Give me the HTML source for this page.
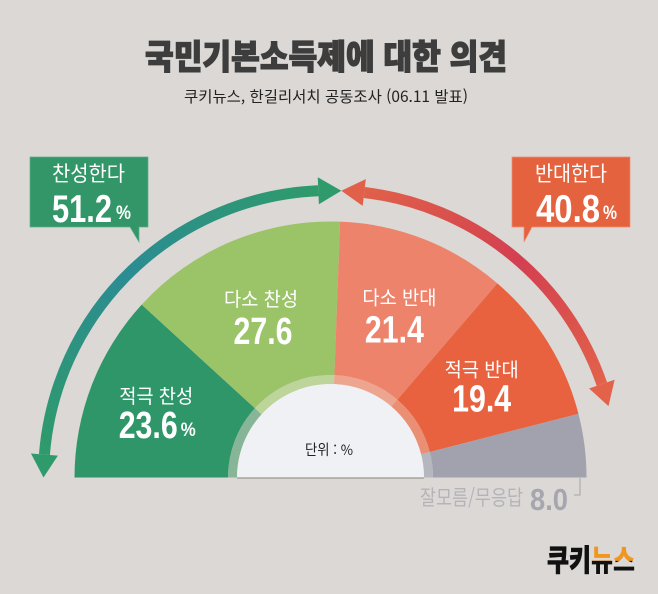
<!DOCTYPE html>
<html lang="ko">
<head>
<meta charset="utf-8">
<title>국민기본소득제에 대한 의견</title>
<style>
html,body{margin:0;padding:0;background:#dbd8d5;}
#chart{display:block;width:658px;height:594px;}
text{font-family:"Liberation Sans","Noto Sans CJK KR",sans-serif;}
.kr{font-family:"Noto Sans CJK KR","Liberation Sans",sans-serif;}
</style>
</head>
<body>
<svg id="chart" xmlns="http://www.w3.org/2000/svg" width="658" height="594" viewBox="0 0 658 594">
  <defs>
    <linearGradient id="favor-grad" x1="0" y1="1" x2="1" y2="0">
      <stop offset="0" stop-color="#2f9a6b"/><stop offset="0.5" stop-color="#2b8c93"/><stop offset="1" stop-color="#2f9a6b"/>
    </linearGradient>
    <linearGradient id="oppose-grad" x1="0" y1="0" x2="1" y2="1">
      <stop offset="0" stop-color="#e0604a"/><stop offset="0.5" stop-color="#d33f50"/><stop offset="1" stop-color="#e2624a"/>
    </linearGradient>
    <linearGradient id="logo-grad" x1="0" y1="0" x2="0" y2="1">
      <stop offset="0" stop-color="#f0961e"/><stop offset="0.56" stop-color="#f0961e"/><stop offset="0.57" stop-color="#111"/><stop offset="1" stop-color="#111"/>
    </linearGradient>
  </defs>
  <rect width="658" height="594" fill="#dbd8d5"/>
  <text class="kr" x="145" y="69" font-size="34" font-weight="900" fill="#3d3d3d" stroke="#3d3d3d" stroke-width="1.2" textLength="362" lengthAdjust="spacingAndGlyphs">국민기본소득제에 대한 의견</text>
  <text class="kr" x="184" y="102" font-size="15.5" fill="#222" textLength="284" lengthAdjust="spacingAndGlyphs">쿠키뉴스, 한길리서치 공동조사 (06.11 발표)</text>

  <g id="marks"></g>
  <g id="arrows"></g>
  <g id="labels"></g>

  <g>
    <path d="M30 157H148V227H139V242L130 227H30Z" fill="#329668" stroke="#5fae8b" stroke-width="0.7"/>
    <text class="kr" x="52" y="181" font-size="21" fill="#fff" textLength="73" lengthAdjust="spacingAndGlyphs">찬성한다</text>
    <text id="favor-value" x="52" y="222" font-size="39" font-weight="bold" fill="#fff" textLength="60" lengthAdjust="spacingAndGlyphs"></text>
    <text x="116" y="219" font-size="19" font-weight="bold" fill="#fff" textLength="15" lengthAdjust="spacingAndGlyphs">%</text>
  </g>
  <g>
    <path d="M512 157H630V227H532L524 242V227H512Z" fill="#e5623f" stroke="#ee8d73" stroke-width="0.7"/>
    <text class="kr" x="535" y="181" font-size="21" fill="#fff" textLength="72" lengthAdjust="spacingAndGlyphs">반대한다</text>
    <text id="oppose-value" x="536" y="222" font-size="39" font-weight="bold" fill="#fff" textLength="64" lengthAdjust="spacingAndGlyphs"></text>
    <text x="603" y="219" font-size="19" font-weight="bold" fill="#fff" textLength="14" lengthAdjust="spacingAndGlyphs">%</text>
  </g>

  <text class="kr" x="305" y="455" font-size="14.5" fill="#222" textLength="48" lengthAdjust="spacingAndGlyphs">단위 : %</text>

  <path d="M580 478V495H574" fill="none" stroke="#a5a5a8" stroke-width="1"/>
  <text class="kr" x="420" y="505" font-size="21" fill="#b4b4b8" textLength="103" lengthAdjust="spacingAndGlyphs">잘모름/무응답</text>
  <text id="noanswer-value" x="530" y="510" font-size="31" font-weight="bold" fill="#a6a6ae" textLength="38" lengthAdjust="spacingAndGlyphs"></text>

  <text class="kr" x="547" y="571" font-size="30" font-weight="900" textLength="88" lengthAdjust="spacingAndGlyphs"><tspan fill="#111" stroke="#111" stroke-width="0.6">쿠키</tspan><tspan fill="url(#logo-grad)">뉴스</tspan></text>

  <script>
  // Chart data
  const categories = ['적극 찬성', '다소 찬성', '다소 반대', '적극 반대', '잘모름/무응답'];
  const values = [23.6, 27.6, 21.4, 19.4, 8.0];
  const printedValues = ['23.6', '27.6', '21.4', '19.4', '8.0'];
  const favorTotal = [51.2];
  const opposeTotal = [40.8];

  // Layout (not data)
  const CX = 330.5, CY = 477.5, R_OUT = 256, R_RING = 102.5, R_IN = 93.5, R_ARROW = 287;
  const segmentFills = ['#2f9669', '#9bc469', '#ee836c', '#e8623f', '#a2a2ae'];
  const ringFills = ['#86b597', '#bdd49b', '#eda590', '#ea8e74', '#b6b6bf'];
  const labelRadius = [187, 175, 175, 178];
  const nameShiftX = [0, -2, 5, 0];
  const nameShiftY = [0, -3, -3, 0];
  const NS = 'http://www.w3.org/2000/svg';

  // Axis functions: percent share -> gauge angle -> screen point
  function angleOf(pct) { return Math.PI * pct / 100; }
  function polar(r, a) { return [CX - r * Math.cos(a), CY - r * Math.sin(a)]; }
  function sector(r0, r1, a0, a1) {
    const p0 = polar(r1, a0), p1 = polar(r1, a1), p2 = polar(r0, a1), p3 = polar(r0, a0);
    return 'M' + p0[0] + ' ' + p0[1] + 'A' + r1 + ' ' + r1 + ' 0 0 1 ' + p1[0] + ' ' + p1[1] +
           'L' + p2[0] + ' ' + p2[1] + 'A' + r0 + ' ' + r0 + ' 0 0 0 ' + p3[0] + ' ' + p3[1] + 'Z';
  }
  function make(tag, parent, attrs) {
    const el = document.createElementNS(NS, tag);
    for (const k in attrs) el.setAttribute(k, attrs[k]);
    parent.appendChild(el);
    return el;
  }

  const marks = document.getElementById('marks');
  const labels = document.getElementById('labels');
  let cumulative = 0;
  values.forEach(function (v, i) {
    const a0 = angleOf(cumulative), a1 = angleOf(cumulative + v);
    const seg = make('path', marks, { d: sector(R_RING, R_OUT, a0, a1), fill: segmentFills[i] });
    
    
    const ring = make('path', marks, { d: sector(R_IN, R_RING, a0, a1), fill: ringFills[i] });
    
    

    if (i < 4) {
      const mid = polar(labelRadius[i], (a0 + a1) / 2);
      const name = make('text', labels, { x: mid[0] + nameShiftX[i], y: mid[1] - 7 + nameShiftY[i], 'font-size': 19.5, fill: '#fff', 'text-anchor': 'middle', 'class': 'kr', textLength: 74, lengthAdjust: 'spacingAndGlyphs' });
      name.textContent = categories[i];
      
      
      const startX = i === 0 ? mid[0] - 37.5 : mid[0] - 29.5;
      const val = make('text', labels, { x: startX, y: mid[1] + 28, 'font-size': 38, 'font-weight': 'bold', fill: '#fff', textLength: 59, lengthAdjust: 'spacingAndGlyphs' });
      val.textContent = printedValues[i];
      
      
      if (i === 0) {
        const pct = make('text', labels, { x: startX + 62, y: mid[1] + 26, 'font-size': 19, 'font-weight': 'bold', fill: '#fff', textLength: 15, lengthAdjust: 'spacingAndGlyphs' });
        pct.textContent = '%';
        
        
      }
    }
    cumulative += v;
  });

  const inner = make('path', marks, {
    d: 'M' + (CX - R_IN) + ' ' + CY + 'A' + R_IN + ' ' + R_IN + ' 0 0 1 ' + (CX + R_IN) + ' ' + CY + 'Z',
    fill: '#f0f1f4'
  });
  
  
  const baseLine = make('rect', marks, { x: CX - R_IN, y: CY, width: 2 * R_IN, height: 1, fill: '#8d8177' });
  
  

  // Arrows: each spans its total on the same gauge scale
  const arrows = document.getElementById('arrows');
  const HEAD = 23 / R_ARROW, HALF = 13.5;
  function arcPath(a0, a1) {
    const p0 = polar(R_ARROW, a0), p1 = polar(R_ARROW, a1);
    return 'M' + p0[0] + ' ' + p0[1] + 'A' + R_ARROW + ' ' + R_ARROW + ' 0 0 1 ' + p1[0] + ' ' + p1[1];
  }
  function headPoints(tipAngle, baseAngle) {
    const t = polar(R_ARROW, tipAngle), a = polar(R_ARROW - HALF, baseAngle), b = polar(R_ARROW + HALF, baseAngle);
    return t.join(',') + ' ' + a.join(',') + ' ' + b.join(',');
  }
  const favorEnd = angleOf(favorTotal[0]);
  const opposeEnd = angleOf(favorTotal[0] + opposeTotal[0]);

  const favorArc = make('path', arrows, { d: arcPath(HEAD, favorEnd - HEAD), fill: 'none', stroke: 'url(#favor-grad)', 'stroke-width': 11 });
  
  
  const favorHeadA = make('polygon', arrows, { points: headPoints(0, HEAD), fill: '#2f9a6b' });
  
  
  const favorHeadB = make('polygon', arrows, { points: headPoints(favorEnd, favorEnd - HEAD), fill: '#2f9a6b' });
  
  

  const opposeArc = make('path', arrows, { d: arcPath(favorEnd + HEAD, opposeEnd - HEAD), fill: 'none', stroke: 'url(#oppose-grad)', 'stroke-width': 11 });
  
  
  const opposeHeadA = make('polygon', arrows, { points: headPoints(favorEnd, favorEnd + HEAD), fill: '#e0604a' });
  
  
  const opposeHeadB = make('polygon', arrows, { points: headPoints(opposeEnd, opposeEnd - HEAD), fill: '#e2624a' });
  
  

  document.getElementById('favor-value').textContent = favorTotal[0].toFixed(1);
  document.getElementById('oppose-value').textContent = opposeTotal[0].toFixed(1);
  document.getElementById('noanswer-value').textContent = printedValues[4];
  </script>
</svg>
</body>
</html>
